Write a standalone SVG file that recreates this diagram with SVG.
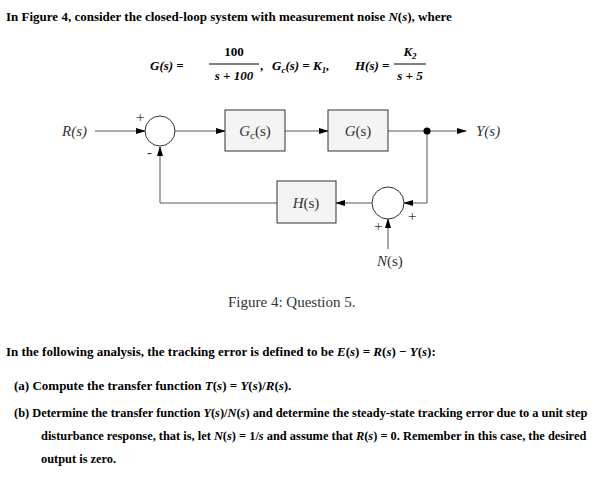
<svg xmlns="http://www.w3.org/2000/svg" width="612" height="484" viewBox="0 0 612 484">
<defs>
<marker id="ar" markerWidth="10" markerHeight="6" refX="9" refY="3" orient="auto" markerUnits="userSpaceOnUse"><path d="M0,0 L10,3 L0,6 z" fill="#000"/></marker>
<style>
.t{font-family:"Liberation Serif",serif;font-weight:bold;font-size:13px;fill:#000}
.s{font-size:12.4px}
.e{font-style:italic}
.d{font-family:"Liberation Serif",serif;font-size:15px;fill:#333}
.l{fill:none;stroke:#555;stroke-width:1}
.b{fill:#f4f4f4;stroke:#333;stroke-width:1}
</style>
</defs>
<rect width="612" height="484" fill="#fff"/>
<text class="t" x="6" y="21">In Figure 4, consider the closed-loop system with measurement noise <tspan font-style="italic">N</tspan>(<tspan font-style="italic">s</tspan>), where</text>
<text class="t e" x="150" y="70">G(s) =</text>
<text class="t" x="234" y="56" text-anchor="middle">100</text>
<line x1="209" y1="64" x2="259" y2="64" stroke="#000" stroke-width="1"/>
<text class="t e" x="234" y="80" text-anchor="middle">s + 100</text>
<text class="t" x="260" y="70">,</text>
<text class="t e" x="272" y="70">G<tspan font-size="9" dy="3">c</tspan><tspan dy="-3">(s) = K</tspan><tspan font-size="9" dy="3">1</tspan><tspan dy="-3">,</tspan></text>
<text class="t e" x="355" y="70">H(s) =</text>
<text class="t e" x="410" y="56" text-anchor="middle">K<tspan font-size="9" dy="3">2</tspan></text>
<line x1="394" y1="64" x2="426" y2="64" stroke="#000" stroke-width="1"/>
<text class="t e" x="410" y="80" text-anchor="middle">s + 5</text>

<g id="connectors">
<line class="l" x1="95" y1="131" x2="145" y2="131" marker-end="url(#ar)"/>
<line class="l" x1="175" y1="131" x2="225" y2="131" marker-end="url(#ar)"/>
<line class="l" x1="285" y1="131" x2="328" y2="131" marker-end="url(#ar)"/>
<line class="l" x1="388" y1="131" x2="466" y2="131" marker-end="url(#ar)"/>
<polyline class="l" points="427,131 427,203 404,203" marker-end="url(#ar)"/>
<line class="l" x1="372" y1="203" x2="336" y2="203" marker-end="url(#ar)"/>
<polyline class="l" points="277,203 160,203 160,147" marker-end="url(#ar)"/>
<line class="l" x1="388" y1="249" x2="388" y2="219" marker-end="url(#ar)"/>
<circle cx="427" cy="131" r="3.5" fill="#000"/>
</g>
<g id="R"><text class="d" x="62" y="136" font-style="italic">R(s)</text></g>
<g id="sum1"><circle cx="160" cy="131" r="15" fill="#fff" stroke="#333"/>
<text class="d" x="136" y="122" font-size="11">+</text><text class="d" x="147" y="157" font-size="11">-</text></g>
<g id="Gc"><rect class="b" x="225" y="110" width="60" height="41"/><text class="d" x="255" y="136" text-anchor="middle"><tspan font-style="italic">G</tspan><tspan font-size="11" dy="3">c</tspan><tspan dy="-3">(s)</tspan></text></g>
<g id="G"><rect class="b" x="328" y="110" width="60" height="41"/><text class="d" x="358" y="136" text-anchor="middle"><tspan font-style="italic">G</tspan>(s)</text></g>
<g id="Y"><text class="d" x="476" y="136" font-style="italic">Y(s)</text></g>
<g id="H"><rect class="b" x="277" y="181" width="59" height="42"/><text class="d" x="306" y="208" text-anchor="middle"><tspan font-style="italic">H</tspan>(s)</text></g>
<g id="sum2"><circle cx="388" cy="203" r="16" fill="#fff" stroke="#333"/>
<text class="d" x="408" y="221" font-size="12">+</text><text class="d" x="374" y="231" font-size="12">+</text></g>
<g id="N"><text class="d" x="377" y="266"><tspan font-style="italic">N</tspan>(s)</text></g>
<text class="d" x="228" y="307" font-size="13">Figure 4: Question 5.</text>

<text class="t" x="6" y="356">In the following analysis, the tracking error is defined to be <tspan font-style="italic">E</tspan>(<tspan font-style="italic">s</tspan>) = <tspan font-style="italic">R</tspan>(<tspan font-style="italic">s</tspan>) − <tspan font-style="italic">Y</tspan>(<tspan font-style="italic">s</tspan>):</text>
<text class="t" x="14" y="390">(a)  Compute the transfer function <tspan font-style="italic">T</tspan>(<tspan font-style="italic">s</tspan>) = <tspan font-style="italic">Y</tspan>(<tspan font-style="italic">s</tspan>)/<tspan font-style="italic">R</tspan>(<tspan font-style="italic">s</tspan>).</text>
<text class="t s" x="14" y="417">(b)  Determine the transfer function <tspan font-style="italic">Y</tspan>(<tspan font-style="italic">s</tspan>)/<tspan font-style="italic">N</tspan>(<tspan font-style="italic">s</tspan>) and determine the steady-state tracking error due to a unit step</text>
<text class="t s" x="41" y="440">disturbance response, that is, let <tspan font-style="italic">N</tspan>(<tspan font-style="italic">s</tspan>) = 1/<tspan font-style="italic">s</tspan> and assume that <tspan font-style="italic">R</tspan>(<tspan font-style="italic">s</tspan>) = 0. Remember in this case, the desired</text>
<text class="t s" x="41" y="463">output is zero.</text>
</svg>
